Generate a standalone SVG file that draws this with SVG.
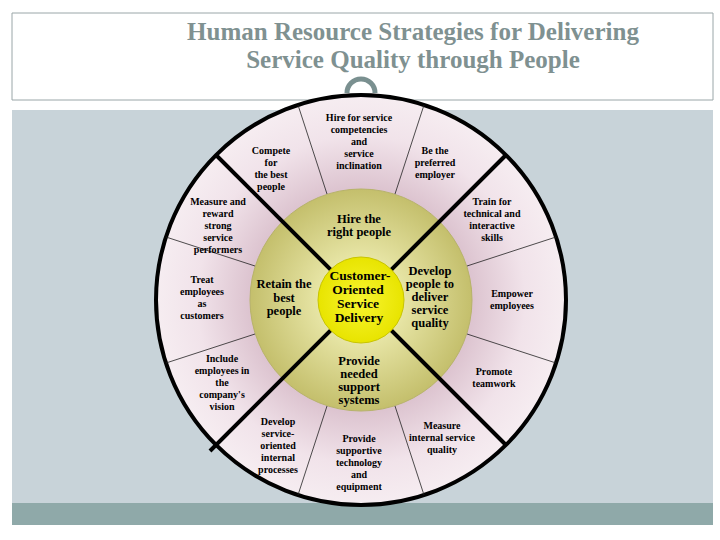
<svg xmlns="http://www.w3.org/2000/svg" width="720" height="540" viewBox="0 0 720 540">
<defs>
<radialGradient id="gOut" cx="0.5" cy="0.5" r="0.5"><stop offset="0.54" stop-color="#dcc3cf"/><stop offset="0.8" stop-color="#f1e3ea"/><stop offset="1" stop-color="#f6edf1"/></radialGradient>
<radialGradient id="gMid" cx="0.5" cy="0.5" r="0.5"><stop offset="0.4" stop-color="#e6e4a4"/><stop offset="1" stop-color="#c4bf6c"/></radialGradient>
<radialGradient id="gIn" cx="0.5" cy="0.5" r="0.5"><stop offset="0" stop-color="#f8f530"/><stop offset="1" stop-color="#e8e400"/></radialGradient>
<style>
.t{font-family:"Liberation Serif",serif;font-weight:bold;font-size:10px;fill:#000;text-anchor:middle}
.m{font-family:"Liberation Serif",serif;font-weight:bold;font-size:12.5px;fill:#000;text-anchor:middle}
.c{font-family:"Liberation Serif",serif;font-weight:bold;font-size:13.5px;fill:#000;text-anchor:middle}
.thin{stroke:#222;stroke-width:0.8}
.thick{stroke:#000;stroke-width:4}
</style>
</defs>
<rect width="720" height="540" fill="#fff"/>
<rect x="12" y="110" width="701" height="395" fill="#c8d3d9"/>
<rect x="12" y="503" width="701" height="22" fill="#8fa9a9"/>
<line x1="12" y1="100" x2="713" y2="100" stroke="#9aa6a8" stroke-width="1"/>
<line x1="12" y1="13" x2="713" y2="13" stroke="#9aa6a8" stroke-width="1"/>
<line x1="12" y1="13" x2="12" y2="100" stroke="#9aa6a8" stroke-width="1"/>
<line x1="713" y1="13" x2="713" y2="100" stroke="#9aa6a8" stroke-width="1"/>
<g id="title" font-family="Liberation Serif,serif" font-size="25" font-weight="bold" fill="#7f9191" text-anchor="middle">
<text x="413" y="40">Human Resource Strategies for Delivering</text>
<text x="413" y="68">Service Quality through People</text>
</g>
<path d="M347,93 A14,14 0 0 1 375,93" fill="none" stroke="#7a9090" stroke-width="5"/>
<g id="wheel">
<circle cx="361" cy="300" r="205" fill="url(#gOut)" stroke="#000" stroke-width="4"/>
<circle cx="361" cy="300" r="111" fill="url(#gMid)" stroke="#b7b36a" stroke-width="1"/>
</g>
<g id="connectors">
<line class="thin" x1="327" y1="194" x2="298" y2="105"/>
<line class="thin" x1="395" y1="194" x2="424" y2="105"/>
<line class="thin" x1="467" y1="266" x2="556" y2="237"/>
<line class="thin" x1="467" y1="334" x2="556" y2="363"/>
<line class="thin" x1="327" y1="406" x2="298" y2="495"/>
<line class="thin" x1="395" y1="406" x2="424" y2="495"/>
<line class="thin" x1="255" y1="266" x2="166" y2="237"/>
<line class="thin" x1="255" y1="334" x2="166" y2="363"/>
<line class="thick" x1="216" y1="155" x2="506" y2="445"/>
<line class="thick" x1="506" y1="155" x2="210" y2="451"/>
</g>
<g id="center"><circle cx="361" cy="300" r="43" fill="url(#gIn)" stroke="#c8c400" stroke-width="1"/>
<text class="c" x="360" y="280">Customer-</text><text class="c" x="358" y="294">Oriented</text><text class="c" x="358" y="308">Service</text><text class="c" x="359" y="322">Delivery</text></g>
<g id="n-hire"><text class="m" x="359" y="223">Hire the</text><text class="m" x="359" y="236">right people</text></g>
<g id="n-develop"><text class="m" x="430" y="275">Develop</text><text class="m" x="430" y="288">people to</text><text class="m" x="430" y="301">deliver</text><text class="m" x="430" y="314">service</text><text class="m" x="430" y="327">quality</text></g>
<g id="n-provide"><text class="m" x="359" y="365">Provide</text><text class="m" x="359" y="378">needed</text><text class="m" x="359" y="391">support</text><text class="m" x="359" y="404">systems</text></g>
<g id="n-retain"><text class="m" x="284" y="288">Retain the</text><text class="m" x="284" y="302">best</text><text class="m" x="284" y="315">people</text></g>
<g id="o1"><text class="t" x="359" y="121">Hire for service</text><text class="t" x="359" y="133">competencies</text><text class="t" x="359" y="145">and</text><text class="t" x="359" y="157">service</text><text class="t" x="359" y="169">inclination</text></g>
<g id="o2"><text class="t" x="435" y="154">Be the</text><text class="t" x="435" y="166">preferred</text><text class="t" x="435" y="178">employer</text></g>
<g id="o3"><text class="t" x="492" y="205">Train for</text><text class="t" x="492" y="217">technical and</text><text class="t" x="492" y="229">interactive</text><text class="t" x="492" y="241">skills</text></g>
<g id="o4"><text class="t" x="512" y="297">Empower</text><text class="t" x="512" y="309">employees</text></g>
<g id="o5"><text class="t" x="494" y="375">Promote</text><text class="t" x="494" y="387">teamwork</text></g>
<g id="o6"><text class="t" x="442" y="429">Measure</text><text class="t" x="442" y="441">internal service</text><text class="t" x="442" y="453">quality</text></g>
<g id="o7"><text class="t" x="359" y="442">Provide</text><text class="t" x="359" y="454">supportive</text><text class="t" x="359" y="466">technology</text><text class="t" x="359" y="478">and</text><text class="t" x="359" y="490">equipment</text></g>
<g id="o8"><text class="t" x="278" y="425">Develop</text><text class="t" x="278" y="437">service-</text><text class="t" x="278" y="449">oriented</text><text class="t" x="278" y="461">internal</text><text class="t" x="278" y="473">processes</text></g>
<g id="o9"><text class="t" x="222" y="362">Include</text><text class="t" x="222" y="374">employees in</text><text class="t" x="222" y="386">the</text><text class="t" x="222" y="398">company's</text><text class="t" x="222" y="410">vision</text></g>
<g id="o10"><text class="t" x="202" y="283">Treat</text><text class="t" x="202" y="295">employees</text><text class="t" x="202" y="307">as</text><text class="t" x="202" y="319">customers</text></g>
<g id="o11"><text class="t" x="218" y="205">Measure and</text><text class="t" x="218" y="217">reward</text><text class="t" x="218" y="229">strong</text><text class="t" x="218" y="241">service</text><text class="t" x="218" y="253">performers</text></g>
<g id="o12"><text class="t" x="271" y="154">Compete</text><text class="t" x="271" y="166">for</text><text class="t" x="271" y="178">the best</text><text class="t" x="271" y="190">people</text></g>
</svg>
